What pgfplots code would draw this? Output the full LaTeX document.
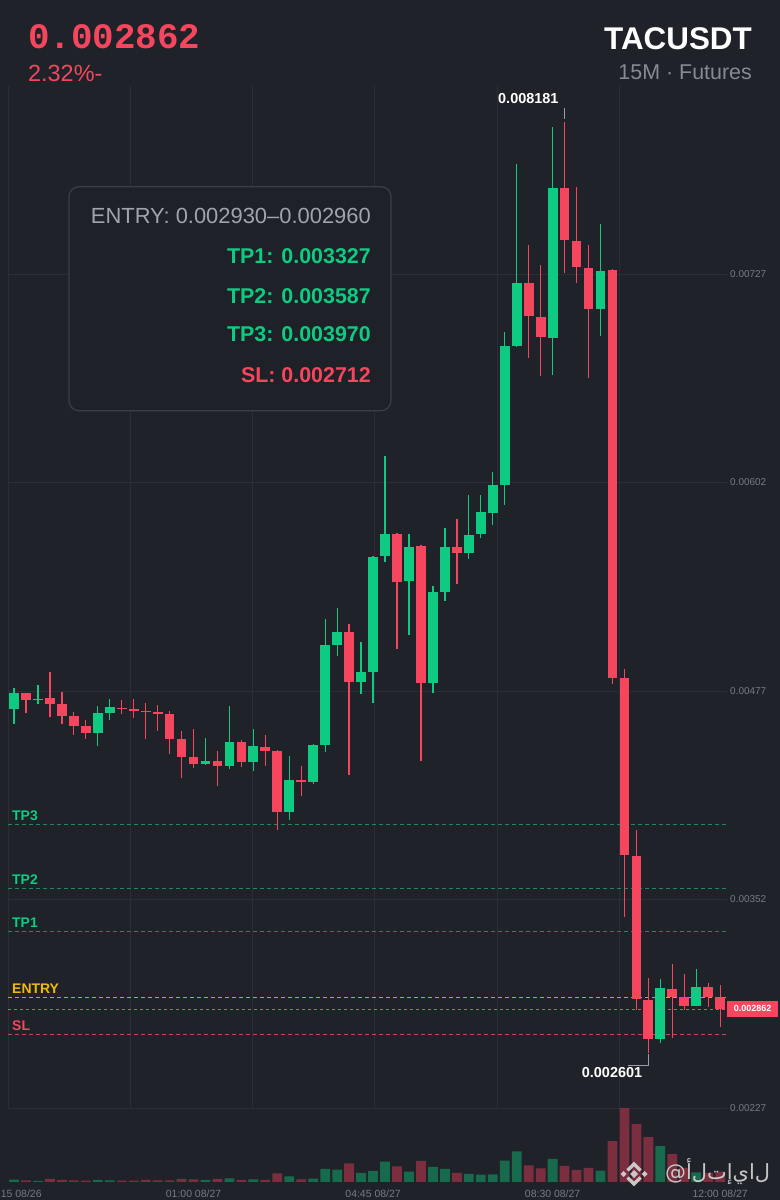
\documentclass[border=0pt]{standalone}
\usepackage{pgfplots}
\pgfplotsset{compat=1.18}
\usepackage{pgfplotstable}
\usepackage{fontspec}
\setmainfont{Liberation Sans}
\newfontfamily\monofont{Liberation Mono}
\newfontfamily\arfont{DejaVu Sans}
\definecolor{bg}{HTML}{1F2229}
\definecolor{cgreen}{HTML}{0ECB81}
\definecolor{cred}{HTML}{F6465D}
\definecolor{gridc}{HTML}{2A2E35}
\definecolor{labc}{HTML}{767B84}
\definecolor{volg}{HTML}{176A4C}
\definecolor{volr}{HTML}{7A2E3E}
\definecolor{tpline}{HTML}{1E8A62}
\definecolor{entryc}{HTML}{F0B90B}
\definecolor{entryl}{HTML}{D6A31E}
\definecolor{slline}{HTML}{C9435A}
\definecolor{boxb}{HTML}{3A3F47}
\definecolor{boxf}{HTML}{1E2127}
\definecolor{subc}{HTML}{858A93}
\definecolor{entryt}{HTML}{A0A5AC}
\definecolor{wm}{HTML}{D8D8D8}
\definecolor{ann}{HTML}{9A9FA6}

% green (up) candles: index, open, high, low, close, volume
\pgfplotstableread{
x o h l c v
0 0.004660 0.004788 0.004572 0.004758 2.3
2 0.004714 0.004804 0.004694 0.004722 1.0
7 0.004520 0.004680 0.004442 0.004636 2.0
8 0.004636 0.004722 0.004596 0.004674 1.7
16 0.004332 0.004488 0.004328 0.004349 2.0
18 0.004320 0.004682 0.004304 0.004466 3.7
20 0.004343 0.004542 0.004289 0.004438 2.7
23 0.004043 0.004380 0.003995 0.004238 5.7
25 0.004226 0.004452 0.004211 0.004446 3.3
26 0.004446 0.005202 0.004406 0.005044 13
27 0.005048 0.005269 0.004982 0.005126 12.3
29 0.004826 0.005066 0.004750 0.004882 9
30 0.004882 0.005579 0.004696 0.005573 11
31 0.005581 0.006179 0.005545 0.005711 20.3
33 0.005428 0.005709 0.005108 0.005635 10.3
35 0.004820 0.005401 0.004756 0.005362 15
36 0.005365 0.005747 0.005310 0.005632 13
38 0.005595 0.005945 0.005563 0.005703 8
39 0.005711 0.005945 0.005685 0.005841 7.3
40 0.005839 0.006083 0.005767 0.006005 7.7
41 0.006003 0.006920 0.005885 0.006838 21.3
42 0.006838 0.007930 0.006834 0.007218 30.7
45 0.006888 0.008153 0.006665 0.007784 23
49 0.007060 0.007568 0.006898 0.007290 11.3
54 0.002684 0.003043 0.002662 0.002988 36
57 0.002882 0.003103 0.002880 0.002997 9.7
}\greentab

% red (down) candles: index, open, high, low, close, volume
\pgfplotstableread{
x o h l c v
1 0.004758 0.004760 0.004640 0.004714 1.7
3 0.004726 0.004886 0.004614 0.004694 3
4 0.004694 0.004764 0.004574 0.004622 2
5 0.004620 0.004642 0.004508 0.004558 1.7
6 0.004558 0.004596 0.004484 0.004520 1.3
9 0.004670 0.004714 0.004632 0.004660 1.3
10 0.004662 0.004722 0.004610 0.004648 1.3
11 0.004650 0.004698 0.004480 0.004642 2
12 0.004642 0.004684 0.004530 0.004634 1.7
13 0.004634 0.004650 0.004394 0.004480 1.7
14 0.004480 0.004530 0.004250 0.004376 3
15 0.004374 0.004540 0.004310 0.004334 2.7
17 0.004350 0.004410 0.004202 0.004320 3
19 0.004466 0.004476 0.004313 0.004344 2
21 0.004436 0.004506 0.004320 0.004410 2
22 0.004410 0.004418 0.003937 0.004043 8.7
24 0.004238 0.004322 0.004140 0.004226 2.7
28 0.005126 0.005172 0.004266 0.004826 18.7
32 0.005713 0.005715 0.005024 0.005425 15.7
34 0.005639 0.005645 0.004349 0.004820 21
37 0.005632 0.005803 0.005413 0.005597 9
43 0.007218 0.007444 0.006768 0.007018 16.7
44 0.007014 0.007324 0.006659 0.006892 13.7
46 0.007787 0.008181 0.007278 0.007472 16
47 0.007468 0.007792 0.007218 0.007312 12
48 0.007306 0.007444 0.006648 0.007060 14
50 0.007294 0.007300 0.004810 0.004846 41
51 0.004850 0.004902 0.003417 0.003785 74
52 0.003783 0.003937 0.002858 0.002922 58
53 0.002919 0.003048 0.002601 0.002684 45
55 0.002986 0.003132 0.002692 0.002937 28
56 0.002934 0.003073 0.002858 0.002882 14
58 0.002997 0.003018 0.002877 0.002937 9
59 0.002934 0.003007 0.002757 0.002862 10.3
}\redtab

\begin{document}
\begin{tikzpicture}[x=1bp,y=1bp]
\path[use as bounding box] (0,0) rectangle (780,1200);
\fill[bg] (0,0) rectangle (780,1200);
\clip (0,0) rectangle (780,1200);

% ---------- price panel ----------
\begin{axis}[
  at={(8bp,92bp)}, anchor=south west,
  width=719bp, height=1022.5bp, scale only axis,
  xmin=-0.5, xmax=59.57, ymin=0.00227, ymax=0.0084,
  axis line style={draw=none}, major tick length=0pt,
  xtick={-0.5,9.69,19.92,30.15,40.38,50.61}, xticklabel=\empty,
  ytick={0.00227,0.00352,0.00477,0.00602,0.00727},
  yticklabels={0.00227,0.00352,0.00477,0.00602,0.00727},
  yticklabel pos=right, scaled y ticks=false,
  yticklabel style={anchor=west, inner sep=0pt, xshift=3bp, font=\fontsize{10}{12}\selectfont, text=labc},
  xmajorgrids, ymajorgrids,
  grid style={gridc, line width=0.9bp},
]
% level lines
\draw[tpline, line width=1.2bp, dash pattern=on 4bp off 3bp] (axis cs:-0.5,0.003970) -- (axis cs:59.57,0.003970);
\draw[tpline, line width=1.2bp, dash pattern=on 4bp off 3bp] (axis cs:-0.5,0.003587) -- (axis cs:59.57,0.003587);
\draw[tpline, line width=1.2bp, dash pattern=on 4bp off 3bp] (axis cs:-0.5,0.003327) -- (axis cs:59.57,0.003327);
\draw[entryl, line width=1.1bp, dash pattern=on 4bp off 3bp] (axis cs:-0.5,0.002930) -- (axis cs:59.57,0.002930);
\draw[slline, line width=1.1bp, dash pattern=on 4bp off 3bp] (axis cs:-0.5,0.002712) -- (axis cs:59.57,0.002712);
\draw[cred, line width=1.1bp, dash pattern=on 3bp off 3bp] (axis cs:-0.5,0.002862) -- (axis cs:59.57,0.002862);
% wicks
\addplot[cgreen, line width=1.3bp, quiver={u=0, v={\thisrow{h}-\thisrow{l}}}] table[x=x, y=l] {\greentab};
\addplot[cred, line width=1.3bp, quiver={u=0, v={\thisrow{h}-\thisrow{l}}}] table[x=x, y=l] {\redtab};
% bodies
\addplot[cgreen, line width=9.8bp, quiver={u=0, v={max(\thisrow{c}-\thisrow{o},0.000008)}}] table[x=x, y=o] {\greentab};
\addplot[cred, line width=9.8bp, quiver={u=0, v={max(\thisrow{o}-\thisrow{c},0.000008)}}] table[x=x, y=c] {\redtab};
\end{axis}

% ---------- volume panel ----------
\begin{axis}[
  at={(8bp,18bp)}, anchor=south west,
  width=719bp, height=74bp, scale only axis,
  xmin=-0.5, xmax=59.57, ymin=0, ymax=74,
  axis line style={draw=none}, major tick length=0pt,
  ytick=\empty,
  xtick={0,15,30,45,59},
  xticklabels={21:15 08/26,01:00 08/27,04:45 08/27,08:30 08/27,12:00 08/27},
  xticklabel style={anchor=base, inner sep=0pt, yshift=-15.5bp, font=\fontsize{10.5}{12}\selectfont, text=labc},
  clip=false,
]
\addplot[ybar, bar width=9.8bp, bar shift=0pt, fill=volg, draw=none] table[x=x, y=v] {\greentab};
\addplot[ybar, bar width=9.8bp, bar shift=0pt, fill=volr, draw=none] table[x=x, y=v] {\redtab};
\end{axis}

% ---------- header ----------
\node[anchor=base west, inner sep=0, text=cred, font=\monofont\bfseries\fontsize{36}{40}\selectfont] at (28,1151.7) {0.002862};
\node[anchor=base west, inner sep=0, text=cred, font=\fontsize{23.5}{28}\selectfont] at (28,1118.5) {2.32\%-};
\node[anchor=base east, inner sep=0, text=white, font=\bfseries\fontsize{31.5}{34}\selectfont] at (752,1150) {TACUSDT};
\node[anchor=base east, inner sep=0, text=subc, font=\fontsize{21.5}{26}\selectfont] at (752,1120) {15M · Futures};

% ---------- info box ----------
\draw[boxb, fill=boxf, line width=1.2bp, rounded corners=10bp] (69,789.3) rectangle (391,1013.3);
\node[anchor=base east, inner sep=0, text=entryt, font=\fontsize{22}{26}\selectfont] at (371,976) {ENTRY: 0.002930–0.002960};
\node[anchor=base east, inner sep=0, text=cgreen, font=\bfseries\fontsize{21.5}{26}\selectfont] at (371,936) {TP1: 0.003327};
\node[anchor=base east, inner sep=0, text=cgreen, font=\bfseries\fontsize{21.5}{26}\selectfont] at (371,896) {TP2: 0.003587};
\node[anchor=base east, inner sep=0, text=cgreen, font=\bfseries\fontsize{21.5}{26}\selectfont] at (371,858) {TP3: 0.003970};
\node[anchor=base east, inner sep=0, text=cred, font=\bfseries\fontsize{21.5}{26}\selectfont] at (371,817) {SL: 0.002712};

% ---------- level labels ----------
\node[anchor=base west, inner sep=0, text=cgreen, font=\bfseries\fontsize{14}{16}\selectfont] at (12,379.3) {TP3};
\node[anchor=base west, inner sep=0, text=cgreen, font=\bfseries\fontsize{14}{16}\selectfont] at (12,315.7) {TP2};
\node[anchor=base west, inner sep=0, text=cgreen, font=\bfseries\fontsize{14}{16}\selectfont] at (12,272.3) {TP1};
\node[anchor=base west, inner sep=0, text=entryc, font=\bfseries\fontsize{14}{16}\selectfont] at (12,206) {ENTRY};
\node[anchor=base west, inner sep=0, text=cred, font=\bfseries\fontsize{14}{16}\selectfont] at (12,169.3) {SL};

% ---------- high / low annotations ----------
\node[anchor=base west, inner sep=0, text=white, font=\bfseries\fontsize{14.5}{16}\selectfont] at (498,1096) {0.008181};
\draw[ann, line width=0.9bp] (564,1092) -- (564,1081);
\node[anchor=base west, inner sep=0, text=white, font=\bfseries\fontsize{14.5}{16}\selectfont] at (581.7,122) {0.002601};
\draw[ann, line width=1bp] (648.3,146) -- (648.3,134) -- (628,134);

% ---------- last price tag ----------
\fill[cred] (727,183.3) rectangle (778.3,199.3);
\node[inner sep=0, text=white, font=\bfseries\fontsize{9}{10}\selectfont] at (752.6,191.3) {0.002862};

% ---------- watermark ----------
\begin{scope}[wm, opacity=0.9]
\fill (630,26) -- (634,30) -- (638,26) -- (634,22) -- cycle;
\fill (620.5,26) -- (623.5,29) -- (626.5,26) -- (623.5,23) -- cycle;
\fill (641.5,26) -- (644.5,29) -- (647.5,26) -- (644.5,23) -- cycle;
\draw[line width=3.2bp] (627.5,29.5) -- (634,36) -- (640.5,29.5);
\draw[line width=3.2bp] (627.5,22.5) -- (634,16) -- (640.5,22.5);
\node[anchor=base west, inner sep=0, text=wm, font=\arfont\fontsize{21}{24}\selectfont] at (665,20) {@\hbox{أ}\hbox{ل}\hbox{ت}\hbox{إ}\hbox{ي}\hbox{ا}\hbox{ل}};
\end{scope}
\end{tikzpicture}
\end{document}
